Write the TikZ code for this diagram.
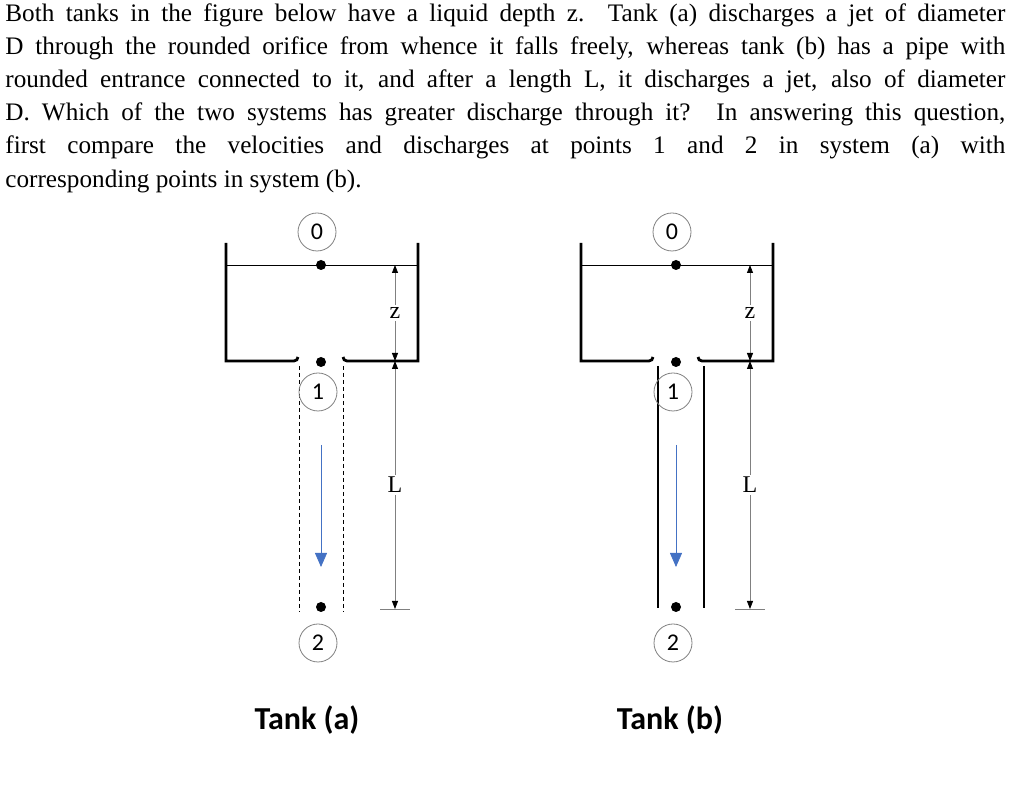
\documentclass[tikz,border=0pt]{standalone}
\usepackage{fontspec}
\setmainfont{Liberation Serif}
\newfontfamily\calib{Carlito}
\usetikzlibrary{positioning,arrows.meta}
\definecolor{flowblue}{HTML}{4472C4}
\begin{document}
\begin{tikzpicture}[x=0.5pt,y=-0.5pt,
  wall/.style={line width=1.4pt},
  dot/.style={circle,fill=black,inner sep=0pt,minimum size=5pt},
  station/.style={circle,draw=gray,thin,inner sep=0.5pt,minimum size=19pt,font=\calib\fontsize{12}{12}\selectfont},
  dim/.style={draw=gray,thin,{Triangle[black,length=4pt,width=3pt]}-{Triangle[black,length=4pt,width=3pt]}},
  caption/.style={font=\calib\bfseries\fontsize{16}{16}\selectfont}]
\useasboundingbox (0,0) rectangle (1024,785);
\node[anchor=north west,inner sep=0pt,text width=500pt,align=justify,
  font=\fontsize{12.6}{16.6}\selectfont] (txt) at (5,3)
  {Both tanks in the figure below have a liquid depth z. Tank (a) discharges a jet of diameter\linebreak D through the rounded orifice from whence it falls freely, whereas tank (b) has a pipe with\linebreak rounded entrance connected to it, and after a length L, it discharges a jet, also of diameter\linebreak D. Which of the two systems has greater discharge through it? In answering this question,\linebreak first compare the velocities and discharges at points 1 and 2 in system (a) with\linebreak corresponding points in system (b).\par};
\foreach \s/\dx in {a/0,b/355}{
  \begin{scope}[xshift=\dx*0.5pt]
  % tank
  \draw[wall] (226,243) -- (226,361) -- (294,361) arc[start angle=90,end angle=0,radius=4];
  \draw[wall] (418,243) -- (418,361) -- (347,361) arc[start angle=90,end angle=180,radius=4];
  \draw[thin] (226,265) -- (418,265);
  % jet or pipe
  \ifnum\dx=0
    \draw[thin,dash pattern=on 2pt off 1.5pt] (299,366) -- (299,612);
    \draw[thin,dash pattern=on 2pt off 1.5pt] (343,366) -- (343,612);
  \else
    \draw[wall] (303,366) -- (303,608);
    \draw[wall] (349,366) -- (349,608);
  \fi
  \node[dot] (p0\s) at (321,265) {};
  \node[dot] (p1\s) at (321,362) {};
  \node[dot] (p2\s) at (321,607) {};
  \node[station] (c0\s) at (317,232) {0};
  \node[station] (c1\s) at (318,392) {1};
  \node[station] (c2\s) at (318,643) {2};
  \draw[-{Triangle[length=7pt,width=6pt]},flowblue,thin] (321,445) -- (321,567);
  % dimensions
  \coordinate (zt\s) at (395,265);
  \coordinate (zb\s) at (395,361);
  \coordinate (lb\s) at (395,609);
  \draw[thin] (365,265) -- (zt\s);
  \draw[gray,thin] (380,609) -- (410,609);
  \draw[dim] (zt\s) -- node[fill=white,inner sep=1pt,font=\fontsize{12}{12}\selectfont]{z} (zb\s);
  \draw[dim] (zb\s) -- node[fill=white,inner sep=1pt,font=\fontsize{12}{12}\selectfont]{L} (lb\s);
  \end{scope}
}
\node[caption] (ta) at (307,720) {Tank (a)};
\node[caption] (tb) at (670,720) {Tank (b)};
\end{tikzpicture}
\end{document}
